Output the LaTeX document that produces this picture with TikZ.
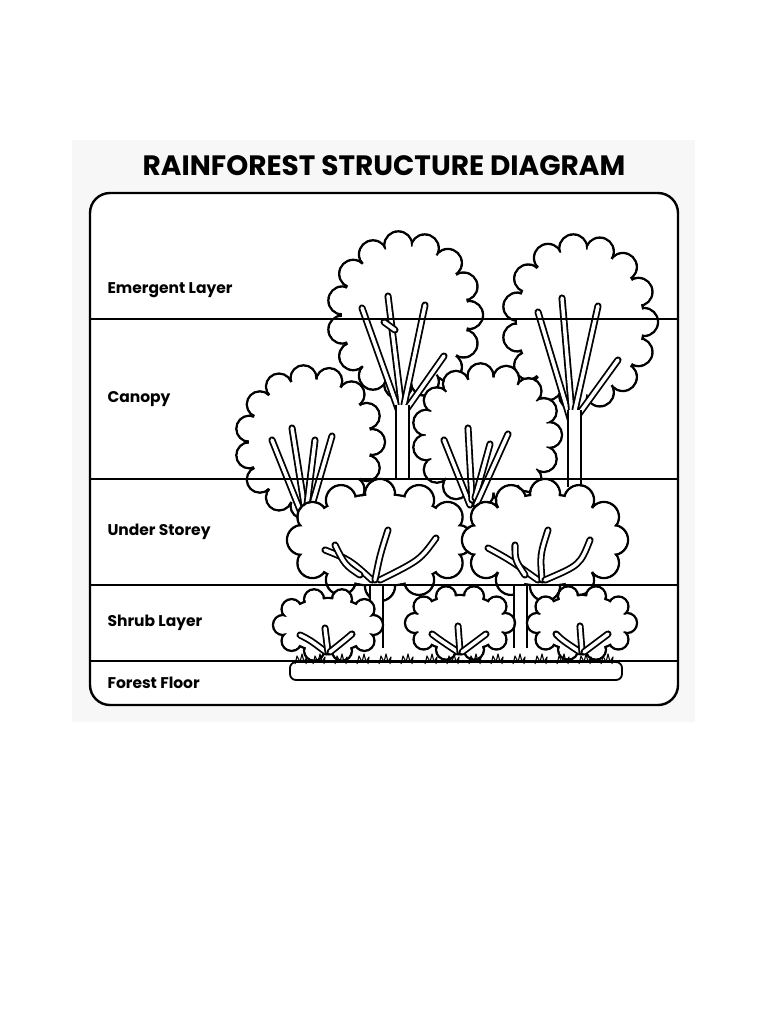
\documentclass[tikz,border=0pt]{standalone}
\usepackage{fontspec}
\newfontfamily\pop{Poppins}
\newcommand\crownshape[6]{%
 \foreach \a in {0,#6,...,359}{\draw[line width=2.4pt] ({#1+#3*cos(\a)},{#2+#4*sin(\a)}) circle[radius=#5];}
 \draw[line width=2.4pt] (#1,#2) ellipse[x radius=#3,y radius=#4];
 \foreach \a in {0,#6,...,359}{\fill[white] ({#1+#3*cos(\a)},{#2+#4*sin(\a)}) circle[radius=#5-1.3];}
 \fill[white] (#1,#2) ellipse[x radius=#3-1.2,y radius=#4-1.2];}
\tikzset{br/.style={double=white,double distance=3.5pt,line width=1.8pt,line cap=round},
 trunk/.style={double=white,double distance=11pt,line width=2pt},
 sep/.style={line width=2pt},
 lab/.style={anchor=west,font=\pop\bfseries\fontsize{15.5}{18}\selectfont}}
\begin{document}
\begin{tikzpicture}[x=1pt,y=-1pt]
\useasboundingbox (0,0) rectangle (768,1024);
\fill[white] (0,0) rectangle (768,1024);
\fill[black!3] (72,140) rectangle (695,722);
\node[font=\pop\bfseries\fontsize{28}{32}\selectfont] (title) at (384,166) {RAINFOREST STRUCTURE DIAGRAM};
\draw[line width=2.4pt,fill=white,rounded corners=20] (90,193) rectangle (678,705);
% emergent trees
\crownshape{405}{315}{64}{70}{14}{24}
\draw[br] (402,420) -- (362,308); \draw[br] (402,410) -- (388,296); \draw[br] (404,405) -- (425,305);
\draw[br] (406,410) -- (444,356); \draw[br] (395,330)--(384,322);
\draw[trunk] (402,405) -- (402,479);
\crownshape{580}{322}{64}{74}{14}{24}
\draw[br] (572,425) -- (538,312); \draw[br] (572,415) -- (562,298); \draw[br] (575,410) -- (598,306);
\draw[br] (576,418) -- (618,360);
\draw[trunk] (574,410) -- (574,487);
% canopy trees
\crownshape{310}{442}{62}{64}{13}{24}
\draw[br] (304,520) -- (272,440); \draw[br] (305,510) -- (292,428); \draw[br] (307,505) -- (315,440); \draw[br] (309,515) -- (332,436);
\crownshape{487}{435}{62}{59}{13}{24}
\draw[br] (470,505) -- (444,440); \draw[br] (472,500) -- (468,428); \draw[br] (475,498) -- (490,444); \draw[br] (476,505) -- (508,434);
% understorey bushes
\crownshape{380}{540}{78}{46}{15}{30}
\draw[br] (372,580) .. controls (350,560) .. (325,550); \draw[br] (375,580) .. controls (380,555) .. (388,530);
\draw[br] (380,580) .. controls (420,560) .. (436,538); \draw[br] (360,575) .. controls (345,565) .. (335,545);
\crownshape{545}{540}{68}{46}{15}{30}
\draw[br] (538,580) .. controls (510,560) .. (488,548); \draw[br] (542,580) .. controls (540,555) .. (548,530);
\draw[br] (545,580) .. controls (580,565) .. (590,540); \draw[br] (525,575) .. controls (515,560) .. (515,545);
\draw[trunk] (376,585) -- (376,648); \draw[trunk] (520,585) -- (520,648);
% shrubs
\crownshape{328}{625}{45}{27}{10}{36}
\draw[br] (326,652) .. controls (310,640) .. (300,635); \draw[br] (328,652) -- (325,628); \draw[br] (330,652) .. controls (345,640) .. (352,634);
\crownshape{460}{623}{45}{28}{10}{36}
\draw[br] (458,652) .. controls (440,640) .. (432,634); \draw[br] (460,652) -- (458,626); \draw[br] (462,652) .. controls (478,640) .. (486,634);
\crownshape{582}{623}{45}{28}{10}{36}
\draw[br] (580,652) .. controls (562,640) .. (556,634); \draw[br] (582,652) -- (580,626); \draw[br] (584,652) .. controls (600,640) .. (608,634);
% ground
\draw[line width=1.8pt,fill=white,rounded corners=6] (290,662) rectangle (622,680);
\foreach \x in {300,318,340,362,384,406,430,452,474,496,518,540,562,584,606}{
 \draw[line width=1.1pt,line join=round] (\x-5,664) -- (\x-3,656) -- (\x,662) -- (\x+2,654) -- (\x+4,662) -- (\x+7,657) -- (\x+6,664);}
% separators
\draw[sep] (90,319) -- (678,319); \draw[sep] (90,479) -- (678,479);
\draw[sep] (90,585) -- (678,585); \draw[sep] (90,661) -- (678,661);
\node[lab] (l1) at (104,290) {Emergent Layer};
\node[lab] (l2) at (104,399) {Canopy};
\node[lab] (l3) at (104,532) {Under Storey};
\node[lab] (l4) at (104,623) {Shrub Layer};
\node[lab] (l5) at (104,683) {Forest Floor};
\end{tikzpicture}
\end{document}
